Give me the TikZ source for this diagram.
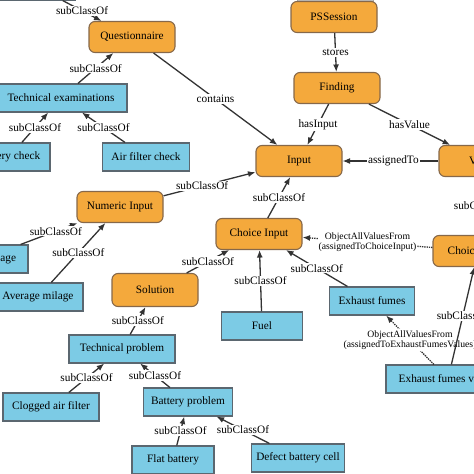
\documentclass[tikz,border=0pt]{standalone}
\usepackage{fontspec}
\setmainfont{Liberation Serif}
\usetikzlibrary{arrows.meta}
\definecolor{coreorange}{HTML}{F4A93C}
\definecolor{coreedge}{HTML}{86684A}
\definecolor{domainblue}{HTML}{7CCBE5}
\definecolor{domainedge}{HTML}{5B6770}
\definecolor{reldark}{HTML}{333333}

\begin{document}
\begin{tikzpicture}[x=1pt,y=-1pt]
        \tikzstyle{every node}=[font=\fontsize{11.3}{13}\selectfont]
        \tikzstyle{corebox}=[draw=coreedge, line width=1.1pt, fill=coreorange, rounded corners=6pt, minimum width=86pt, minimum height=31pt, inner sep=3pt]
        \tikzstyle{domainbox}=[draw=domainedge, line width=1.1pt, fill=domainblue, minimum height=28pt, inner sep=3pt]
        \tikzstyle{rel}=[draw=reldark, line width=1.3pt, -{Latex[length=7.5pt,width=6pt]}]
        \tikzstyle{restr}=[rel, densely dotted]
        \tikzstyle{lbl}=[fill=white, inner sep=1pt]
        \tikzstyle{smalllbl}=[fill=white, inner sep=1pt, align=center, font=\fontsize{9.7}{10.5}\selectfont]

        \useasboundingbox (0,0) rectangle (474,474);
        \clip (0,0) rectangle (474,474);

        \node[domainbox, minimum width=80pt] (upper) at (35,-14) {};
        \node[draw=gray!70, fill=gray!50, minimum width=76pt, minimum height=20pt] (above) at (335,-8.5) {};

        \node[corebox] (questionnaire) at (132,37) {Questionnaire};
        \node[corebox] (pssession) at (334,17) {PSSession};
        \node[corebox] (finding) at (337,88) {Finding};
        \node[corebox] (input) at (299,161) {Input};
        \node[corebox] (value) at (482,161) {Value};
        \node[corebox] (numeric) at (120,207) {Numeric Input};
        \node[corebox] (choice) at (259,234) {Choice Input};
        \node[corebox, minimum width=90pt] (choicevalue) at (478,251) {Choice Value};
        \node[corebox, minimum height=33pt] (solution) at (155,290) {Solution};

        \node[domainbox, minimum width=132pt] (techexam) at (61,98) {Technical examinations};
        \node[domainbox, minimum width=82pt] (battcheck) at (9,157) {Battery check};
        \node[domainbox, minimum width=87pt] (airfilter) at (146,157) {Air filter check};
        \node[domainbox, minimum width=92pt] (curmilage) at (-18,259) {Current milage};
        \node[domainbox, minimum width=90pt] (avgmilage) at (38,297) {Average milage};
        \node[domainbox, minimum width=81pt] (fuel) at (262,326) {Fuel};
        \node[domainbox, minimum width=85pt] (exhaust) at (372,301) {Exhaust fumes};
        \node[domainbox, minimum width=124pt] (exhaustval) at (448,379) {Exhaust fumes values};
        \node[domainbox, minimum width=106pt] (techprob) at (122,349) {Technical problem};
        \node[domainbox, minimum width=96pt] (clogged) at (51,407) {Clogged air filter};
        \node[domainbox, minimum width=89pt] (battprob) at (188,402) {Battery problem};
        \node[domainbox, minimum width=82pt] (flatbatt) at (173,460) {Flat battery};
        \node[domainbox, minimum width=93pt] (defectcell) at (298,458) {Defect battery cell};

        \draw[rel] (upper) -- node[lbl] {subClassOf} (questionnaire);
        \draw[rel] (techexam) -- node[lbl] {subClassOf} (questionnaire);
        \draw[rel] (battcheck) -- node[lbl] {subClassOf} (techexam);
        \draw[rel] (airfilter) -- node[lbl] {subClassOf} (techexam);
        \draw[rel] (questionnaire) -- node[lbl] {contains} (input);
        \draw[rel] (pssession) -- node[lbl] {stores} (finding);
        \draw[rel] (finding) -- node[lbl] {hasInput} (input);
        \draw[rel] (finding) -- node[lbl] {hasValue} (value);
        \draw[rel] (value) -- node[lbl, pos=0.47] {assignedTo} (input);
        \draw[rel] (numeric) -- node[lbl, pos=0.42] {subClassOf} (input);
        \draw[rel] (choice) -- node[lbl] {subClassOf} (input);
        \draw[rel] (curmilage) -- node[lbl, pos=0.62] {subClassOf} (numeric);
        \draw[rel] (avgmilage) -- node[lbl] {subClassOf} (numeric);
        \draw[rel] (solution) -- node[lbl] {subClassOf} (choice);
        \draw[rel] (fuel) -- node[lbl] {subClassOf} (choice);
        \draw[rel] (exhaust) -- node[lbl] {subClassOf} (choice);
        \draw[restr] (choicevalue) -- node[smalllbl] {ObjectAllValuesFrom\\(assignedToChoiceInput)} (choice);
        \draw[rel] (choicevalue) -- node[lbl] {subClassOf} (value);
        \draw[restr] (exhaustval) -- node[smalllbl] {ObjectAllValuesFrom\\(assignedToExhaustFumesValues)} (exhaust);
        \draw[rel] (exhaustval) -- node[lbl] {subClassOf} (choicevalue);
        \draw[rel] (techprob) -- node[lbl] {subClassOf} (solution);
        \draw[rel] (clogged) -- node[lbl] {subClassOf} (techprob);
        \draw[rel] (battprob) -- node[lbl] {subClassOf} (techprob);
        \draw[rel] (flatbatt) -- node[lbl] {subClassOf} (battprob);
        \draw[rel] (defectcell) -- node[lbl] {subClassOf} (battprob);
    \end{tikzpicture}
\end{document}
